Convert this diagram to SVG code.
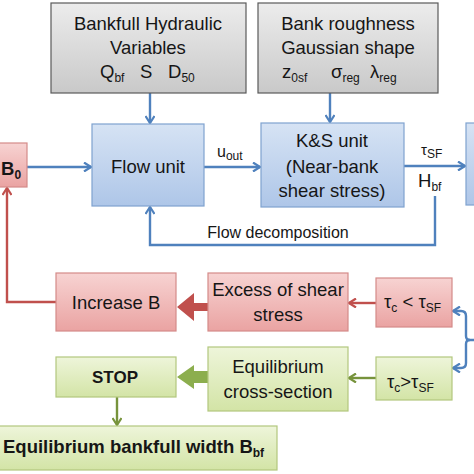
<svg xmlns="http://www.w3.org/2000/svg" width="474" height="474" viewBox="0 0 474 474">
<defs>
<linearGradient id="gGray" x1="0" y1="0" x2="0" y2="1"><stop offset="0" stop-color="#ececec"/><stop offset="1" stop-color="#c9c9c9"/></linearGradient>
<linearGradient id="gBlue" x1="0" y1="0" x2="0" y2="1"><stop offset="0" stop-color="#d6e3f4"/><stop offset="1" stop-color="#aec6e8"/></linearGradient>
<linearGradient id="gRed" x1="0" y1="0" x2="0" y2="1"><stop offset="0" stop-color="#f7d3d2"/><stop offset="1" stop-color="#eaa3a2"/></linearGradient>
<linearGradient id="gGreen" x1="0" y1="0" x2="0" y2="1"><stop offset="0" stop-color="#eef5da"/><stop offset="1" stop-color="#d3e4a6"/></linearGradient>
<marker id="aBlue" viewBox="0 0 10 10" refX="9" refY="5" markerWidth="10" markerHeight="10" markerUnits="userSpaceOnUse" orient="auto">
<path d="M2,0.5 L9,5 L2,9.5" fill="none" stroke="#4f81bd" stroke-width="2.2"/></marker>
<marker id="aRed" viewBox="0 0 10 10" refX="9" refY="5" markerWidth="10" markerHeight="10" markerUnits="userSpaceOnUse" orient="auto">
<path d="M2,0.5 L9,5 L2,9.5" fill="none" stroke="#c0504d" stroke-width="2.2"/></marker>
<marker id="aGreen" viewBox="0 0 10 10" refX="9" refY="5" markerWidth="10" markerHeight="10" markerUnits="userSpaceOnUse" orient="auto">
<path d="M2,0.5 L9,5 L2,9.5" fill="none" stroke="#77933c" stroke-width="2.2"/></marker>
</defs>
<style>
text{font-family:"Liberation Sans",Arial,sans-serif;font-size:18.5px;fill:#161616}
.c{text-anchor:middle}
.b{font-weight:bold}
.s{font-size:12px}
.gray{fill:url(#gGray);stroke:#5a5a5a;stroke-width:1.2}
.blue{fill:url(#gBlue);stroke:#7fa2cf;stroke-width:1.2}
.red{fill:url(#gRed);stroke:#d48b89;stroke-width:1.2}
.green{fill:url(#gGreen);stroke:#b2c77e;stroke-width:1.2}
.lb{fill:none;stroke:#4f81bd;stroke-width:2.4}
.lr{fill:none;stroke:#c0504d;stroke-width:2.4}
.lg{fill:none;stroke:#77933c;stroke-width:2.4}
</style>
<rect width="474" height="474" fill="#ffffff"/>

<g id="connectors">
<path class="lb" d="M150,93 V123" marker-end="url(#aBlue)"/>
<path class="lb" d="M330,93 V122" marker-end="url(#aBlue)"/>
<path class="lb" d="M27,167 H91" marker-end="url(#aBlue)"/>
<path class="lb" d="M204,167 H260" marker-end="url(#aBlue)"/>
<path class="lb" d="M404,166 H465" marker-end="url(#aBlue)"/>
<path class="lb" d="M435,196 V245 H150 V207" marker-end="url(#aBlue)"/>
<path class="lr" d="M56,302 H7 V188" marker-end="url(#aRed)"/>
<path class="lr" d="M376,303 H349" marker-end="url(#aRed)"/>
<path d="M208,303 H194 V293 L177,307 L194,321 V311 H208 Z" fill="#c0504d"/>
<path class="lg" d="M376,378 H349" marker-end="url(#aGreen)"/>
<path d="M208,371 H194 V365 L177,377 L194,389 V383 H208 Z" fill="#8cae4e"/>
<path class="lg" d="M117,397 V425" marker-end="url(#aGreen)"/>
<path class="lb" d="M474,340 H470 Q466,340 466,336 V316 Q466,311 461,311 H453" marker-end="url(#aBlue)"/>
<path class="lb" d="M470,340 Q466,340 466,344 V363 Q466,368 461,368 H453" marker-end="url(#aBlue)"/>
<text x="278" y="238" class="c" style="font-size:16px">Flow decomposition</text>
<text x="217" y="157" style="font-size:16px">u<tspan class="s" dy="3">out</tspan></text>
<text x="421" y="155" style="font-size:15px">τ<tspan class="s" dy="3">SF</tspan></text>
<text x="418" y="187">H<tspan class="s" dy="4">bf</tspan></text>
</g>

<g id="bankfull-hydraulic">
<rect class="gray" x="51" y="3" width="195" height="90"/>
<text x="148" y="30" class="c">Bankfull Hydraulic</text>
<text x="148" y="54" class="c">Variables</text>
<text x="100" y="78">Q<tspan class="s" dy="4">bf</tspan></text>
<text x="140" y="78">S</text>
<text x="168" y="78">D<tspan class="s" dy="4">50</tspan></text>
</g>

<g id="bank-roughness">
<rect class="gray" x="258" y="3" width="180" height="90"/>
<text x="348" y="30" class="c">Bank roughness</text>
<text x="348" y="54" class="c">Gaussian shape</text>
<text x="282" y="78">z<tspan class="s" dy="4">0sf</tspan></text>
<text x="331" y="78">σ<tspan class="s" dy="4">reg</tspan></text>
<text x="370" y="78">λ<tspan class="s" dy="4">reg</tspan></text>
</g>

<g id="b0">
<rect class="red" x="-5" y="143" width="32" height="44"/>
<text x="1" y="175" class="b">B<tspan class="s" dy="4">0</tspan></text>
</g>

<g id="flow-unit">
<rect class="blue" x="92" y="124" width="112" height="82"/>
<text x="148" y="173" class="c">Flow unit</text>
</g>

<g id="ks-unit">
<rect class="blue" x="261" y="123" width="143" height="84"/>
<text x="332" y="147" class="c">K&amp;S unit</text>
<text x="332" y="173" class="c">(Near-bank</text>
<text x="332" y="197" class="c">shear stress)</text>
</g>

<g id="right-unit">
<rect class="blue" x="466" y="123" width="20" height="82"/>
</g>

<g id="increase-b">
<rect class="red" x="56" y="273" width="120" height="58"/>
<text x="116" y="309" class="c">Increase B</text>
</g>

<g id="excess">
<rect class="red" x="208" y="273" width="140" height="58"/>
<text x="278" y="296" class="c">Excess of shear</text>
<text x="278" y="321" class="c">stress</text>
</g>

<g id="tc-lt">
<rect class="red" x="376" y="278" width="76" height="49"/>
<text x="384" y="308">τ<tspan class="s" dy="4">c</tspan><tspan dy="-4"> &lt; τ</tspan><tspan class="s" dy="4">SF</tspan></text>
</g>

<g id="stop">
<rect class="green" x="56" y="357" width="120" height="40"/>
<text x="115" y="383" class="c b" style="font-size:17px">STOP</text>
</g>

<g id="equilibrium-cs">
<rect class="green" x="208" y="347" width="140" height="64"/>
<text x="278" y="373" class="c">Equilibrium</text>
<text x="278" y="398" class="c">cross-section</text>
</g>

<g id="tc-gt">
<rect class="green" x="376" y="357" width="76" height="43"/>
<text x="387" y="388">τ<tspan class="s" dy="4">c</tspan><tspan dy="-4">&gt;τ</tspan><tspan class="s" dy="4">SF</tspan></text>
</g>

<g id="equilibrium-width">
<rect class="green" x="-5" y="426" width="282" height="44"/>
<text x="3" y="453" class="b">Equilibrium bankfull width B<tspan class="s" dy="4">bf</tspan></text>
</g>
</svg>
